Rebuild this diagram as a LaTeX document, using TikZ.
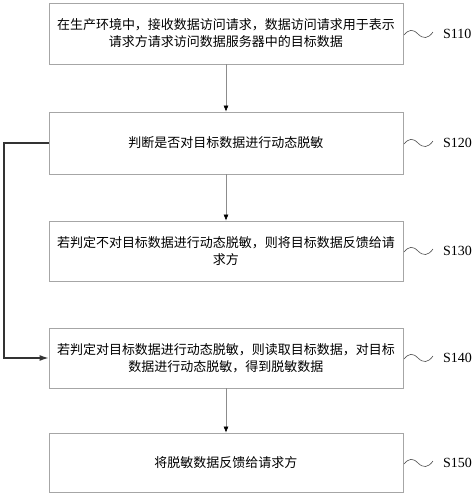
\documentclass[tikz,border=0pt]{standalone}
\usepackage{fontspec}
\setmainfont{Liberation Serif}
\newfontfamily\cjk{Noto Sans CJK SC}
\usetikzlibrary{arrows.meta}
\tikzset{
  stepbox/.style={draw=black!35, line width=0.8pt, fill=white, minimum width=354pt, minimum height=60pt,
    text width=342pt, align=center, inner xsep=6pt, font=\cjk\fontsize{13}{17}\selectfont},
  flow/.style={draw=black!45, line width=0.6pt, -{Latex[length=6pt,width=5pt,color=black]}},
  loopflow/.style={draw=black!80, line width=1.3pt, -{Latex[length=9pt,width=6pt]}},
  tagtext/.style={anchor=west, font=\fontsize{14}{16}\selectfont, inner sep=0pt},
  squig/.style={draw=black!70, line width=0.6pt}
}
\begin{document}
\begin{tikzpicture}[x=1pt,y=-1pt]
\useasboundingbox (0,0) rectangle (474,496);
\node[stepbox, minimum height=61pt] (b1) at (226,33.5) {在生产环境中，接收数据访问请求，数据访问请求用于表示\\请求方请求访问数据服务器中的目标数据};
\node[stepbox, minimum height=62pt] (b2) at (226,143) {判断是否对目标数据进行动态脱敏};
\node[stepbox] (b3) at (226,251) {若判定不对目标数据进行动态脱敏，则将目标数据反馈给请\\求方};
\node[stepbox] (b4) at (226,358) {若判定对目标数据进行动态脱敏，则读取目标数据，对目标\\数据进行动态脱敏，得到脱敏数据};
\node[stepbox, minimum height=59pt] (b5) at (226,462.5) {将脱敏数据反馈给请求方};

\draw[flow] (b1) -- (b2);
\draw[flow] (b2) -- (b3);
\draw[flow] (b4) -- (b5);

\coordinate (l1) at (4,143);
\coordinate (l2) at (4,358);
\draw[loopflow] (b2.west) -- (l1) -- (l2) -- (b4.west);

\foreach \n/\y/\t in {1/34/S110, 2/143/S120, 3/251/S130, 4/358/S140, 5/463/S150}{
  \draw[squig] (404,\y+1) .. controls (409,\y-5) and (413,\y-5) .. (418,\y)
     .. controls (423,\y+5) and (428,\y+5) .. (433,\y-2);
  \node[tagtext] (t\n) at (443,\y) {\t};
}
\end{tikzpicture}
\end{document}
